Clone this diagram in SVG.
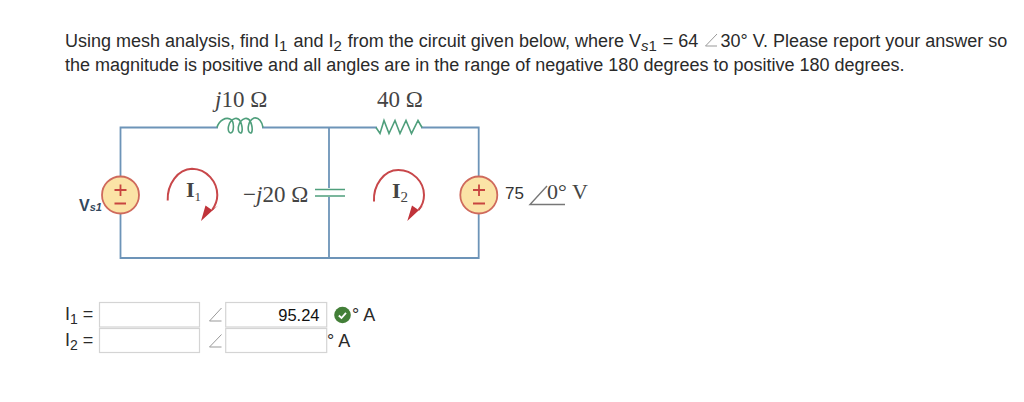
<svg xmlns="http://www.w3.org/2000/svg" width="1024" height="402" viewBox="0 0 1024 402">
<style>
.t{font-family:"Liberation Sans",Arial,sans-serif;font-size:18px;fill:#2a2a2a}
.s{font-size:14px}
.q{font-size:15px}
.c{font-family:"Liberation Serif","Times New Roman",serif;font-size:23px;fill:#444}
.m{font-family:"Liberation Serif","Times New Roman",serif;font-size:22px;font-weight:bold;fill:#444}
.n{font-size:16.500px;fill:#111}
.w{fill:none;stroke:#6d94b8;stroke-width:1.8}
.g{fill:none;stroke:#4f9f7c;stroke-width:1.6}
.src{fill:#fbe3a6;stroke:#cf6a5c;stroke-width:1.8}
.sign{fill:none;stroke:#c8453f;stroke-width:1.8}
.loop{fill:none;stroke:#c8474a;stroke-width:2}
.arrow{fill:#c0333a}
.box{fill:#fff;stroke:#d4d4d4;stroke-width:1.2}
.ang{fill:none;stroke:#999;stroke-width:1}
</style>
<g id="question">
<text class="t" x="65" y="46.500">Using mesh analysis, find I<tspan class="q" dy="4">1</tspan><tspan dy="-4" dx="1"> and I</tspan><tspan class="q" dy="4">2</tspan><tspan dy="-4" dx="1"> from the circuit given below, where V</tspan><tspan class="q" dy="4" font-style="italic">s</tspan><tspan class="q" dy="0">1</tspan><tspan dy="-4" dx="1"> = 64</tspan></text>
<path class="ang" d="M717 34L705.500 46H717"/>
<text class="t" x="720.500" y="46.500">30° V. Please report your answer so</text>
<text class="t" x="65" y="70.500">the magnitude is positive and all angles are in the range of negative 180 degrees to positive 180 degrees.</text>
</g>
<g id="connectors">
<path class="w" d="M120.500 177V127.500H218M262 127.500H377M421 127.500H478.700V177M478.700 213V258H120.500V213"/>
<path class="w" d="M329 127.500V188M329 197V258"/>
</g>
<g id="inductor">
<path class="g" d="M217 127.500C219 120 226 117 230 119C235 121 234 133 230.500 133C227 133 227 121 235 118.500C242 117 244 133 240.500 133C237 133 237 121 245 118.500C252 117 254 133 250.500 133C247 133 247 121 254 118C259 117 262 122 263 127.500"/>
<text class="c" x="215" y="106.500"><tspan font-style="italic">j</tspan>10 Ω</text>
</g>
<g id="resistor">
<path class="g" d="M376 127.500L380 133.500L384 120.500L389 133.500L395 120.500L400 133.500L406 120.500L411.500 133.500L418 120.500L422 127.500"/>
<text class="c" x="377" y="106.500">40 Ω</text>
</g>
<g id="capacitor">
<path class="g" d="M315 189.500H345M315 196H345"/>
<text class="c" x="243" y="201.500">−<tspan font-style="italic">j</tspan>20 Ω</text>
</g>
<g id="source1">
<circle class="src" cx="120.500" cy="195" r="18.500"/>
<path class="sign" d="M114.500 190H126.500M120.500 184.500V196M114.500 203.500H126"/>
<text x="79" y="210.500" font-family="Liberation Sans,sans-serif" font-weight="bold" font-size="16" fill="#33475c">V<tspan font-size="11" font-style="italic">s1</tspan></text>
</g>
<g id="source2">
<circle class="src" cx="478.800" cy="195" r="18.500"/>
<path class="sign" d="M473 190H485M479 184.500V196M473 203.500H485"/>
<text x="505" y="199" font-family="Liberation Sans,sans-serif" font-size="17" fill="#333">75</text>
<path fill="none" stroke="#777" stroke-width="1.4" d="M547 186L530 204.500H565"/>
<text class="c" x="547" y="199" style="font-size:22px">0° V</text>
</g>
<g id="mesh1">
<path class="loop" d="M167.700 200.500C167 184 178 169 192 168.700C207 169 217.300 182 217.300 195C217.300 201 215 206 212 210"/>
<path class="arrow" d="M201 221L205.500 205.500L212 210L218 205.500Z"/>
<text class="m" x="186" y="197">I<tspan font-size="13" dy="4" font-weight="normal">1</tspan></text>
</g>
<g id="mesh2">
<path class="loop" d="M374 201.500C373 185 384 170 398.300 170C413 170 424 182 424 195C424 201 422 206 418.500 210"/>
<path class="arrow" d="M407.300 221L412 205.500L418.500 210L424 205.500Z"/>
<text class="m" x="392" y="197.500">I<tspan font-size="15" dy="4" font-weight="normal">2</tspan></text>
</g>
<g id="row1">
<text class="t" x="65" y="319.500">I<tspan class="s" dy="4">1</tspan><tspan dy="-4"> =</tspan></text>
<rect class="box" x="99.500" y="302.500" width="100" height="24.500"/>
<path class="ang" d="M221.500 308L209.500 321H221.500"/>
<rect class="box" x="225.700" y="302.500" width="101" height="24.500"/>
<text class="t n" x="319.500" y="320.500" text-anchor="end">95.24</text>
<circle cx="342.500" cy="315" r="8.300" fill="#437f38"/>
<path d="M338.800 315.500L341.500 318L346 312.800" fill="none" stroke="#fff" stroke-width="1.800"/>
<text class="t" x="352" y="320.500">° A</text>
</g>
<g id="row2">
<text class="t" x="65" y="345.500">I<tspan class="s" dy="4">2</tspan><tspan dy="-4"> =</tspan></text>
<rect class="box" x="99.500" y="328.500" width="100" height="24"/>
<path class="ang" d="M221.500 334.500L209.500 347H221.500"/>
<rect class="box" x="225.700" y="328.500" width="101" height="24"/>
<text class="t" x="327" y="347">° A</text>
</g>
</svg>
